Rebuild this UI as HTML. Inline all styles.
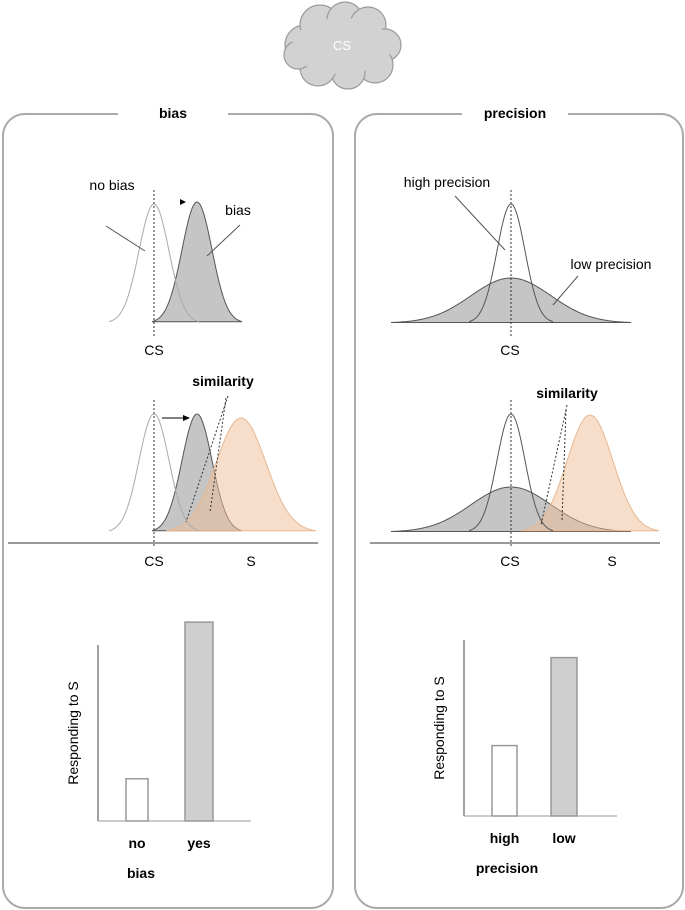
<!DOCTYPE html>
<html><head><meta charset="utf-8"><style>
html,body{margin:0;padding:0;background:#fff}
svg{display:block;font-family:"Liberation Sans",sans-serif}
</style></head><body>
<svg id="fig" width="685" height="910" viewBox="0 0 685 910" xmlns="http://www.w3.org/2000/svg">
<g>
 <g fill="#d2d2d2" stroke="#9a9a9a" stroke-width="1.2">
  <circle cx="305" cy="45" r="20"/><circle cx="320" cy="25" r="20"/><circle cx="345" cy="20" r="18"/><circle cx="368" cy="25" r="18"/><circle cx="385" cy="45" r="16"/><circle cx="375" cy="65" r="18"/><circle cx="348" cy="72" r="17"/><circle cx="318" cy="68" r="18"/><circle cx="298" cy="55" r="14"/>
 </g>
 <g fill="#d2d2d2"><ellipse cx="342" cy="46" rx="50" ry="28"/></g>
 <text x="342" y="50" font-size="13" fill="#fff" text-anchor="middle">CS</text>
</g>
<g>
 <rect x="3" y="114" width="330" height="794" rx="22" fill="none" stroke="#aaa" stroke-width="2"/>
 <rect x="118" y="104" width="110" height="20" fill="#fff"/>
 <text x="173" y="118" font-size="14" font-weight="bold" text-anchor="middle">bias</text>
</g>
<g>
 <rect x="355" y="114" width="328" height="794" rx="22" fill="none" stroke="#aaa" stroke-width="2"/>
 <rect x="462" y="104" width="106" height="20" fill="#fff"/>
 <text x="515" y="118" font-size="14" font-weight="bold" text-anchor="middle">precision</text>
</g>
<g id="curves"></g>
<g id="bars"></g>
</svg>
<script>
// Distribution data: [mean(px), sd(px), peak height(px)]
const biasTop = [[154,15,119],[197,15,121]];
const biasMid = [[154,15,118],[197,15,118],[241,25,114]];
const precTop = [[511,14,119],[511,40,45]];
const precMid = [[511,14,118],[511,40,45],[590,23,117]];
// Bar data
const biasCats = ["no","yes"];
const biasVals = [24,113];
const precCats = ["high","low"];
const precVals = [40,90];

const NS="http://www.w3.org/2000/svg";
function mk(tag,attrs,parent,txt){const e=document.createElementNS(NS,tag);for(const k in attrs)e.setAttribute(k,attrs[k]);if(txt!==undefined)e.textContent=txt;parent.appendChild(e);return e;}
const cg=document.getElementById('curves');
function gauss(d,base,fill,stroke,name){
 const [m,s,h]=d;let p='';
 for(let x=m-3*s;x<=m+3*s+0.01;x+=1){const y=base-h*Math.exp(-((x-m)**2)/(2*s*s));p+=(p?'L':'M')+x.toFixed(1)+','+y.toFixed(1);}
 const e=mk('path',{d:p+(fill!=='none'?'Z':''),fill:fill,stroke:stroke,'stroke-width':1},cg);
 
 
}
function txt(x,y,s,opts,name){const e=mk('text',Object.assign({x:x,y:y,'font-size':14,'text-anchor':'middle'},opts||{}),cg,s);return e;}
function line(x1,y1,x2,y2,opts,name){const e=mk('line',Object.assign({x1,y1,x2,y2,stroke:'#555','stroke-width':1},opts||{}),cg);}
const dash={'stroke-dasharray':'2,2',stroke:'#333'};
// bias top
gauss(biasTop[1],323,'rgba(150,150,150,0.55)','#555','biased-curve');
gauss(biasTop[0],323,'none','#aaa','unbiased-curve');
line(154,190,154,336,dash,'cs-line-bias-top');
txt(154,355,'CS',{},'cs-label');
txt(112,190,'no bias',{},'no-bias-label');
txt(238,215,'bias',{},'bias-label');
line(106,226,145,251,{},'no-bias-leader');
line(240,225,207,256,{},'bias-leader');
mk('path',{d:'M180,199 L186,202 L180,205Z',fill:'#000'},cg);
// bias mid
gauss(biasMid[1],532,'rgba(150,150,150,0.55)','#555','biased-curve-2');
gauss(biasMid[2],532,'rgba(240,190,150,0.5)','#e8b890','s-curve');
gauss(biasMid[0],532,'none','#aaa','unbiased-curve-2');
line(154,400,154,546,dash,'cs-line-bias-mid');
line(8,543,318,543,{stroke:'#333'},'stimulus-axis-bias');
txt(154,566,'CS',{},'cs-axis-label');
txt(251,566,'S',{},'s-axis-label');
txt(223,386,'similarity',{'font-weight':'bold'},'similarity-label');
line(228,396,186,522,dash,'similarity-leader-1');
line(226,398,210,512,dash,'similarity-leader-2');
line(162,418,184,418,{stroke:'#000'},'shift-arrow');
mk('path',{d:'M183,415 L190,418 L183,421Z',fill:'#000'},cg);
// precision top
gauss(precTop[1],323,'rgba(150,150,150,0.55)','#555','low-precision-curve');
gauss(precTop[0],323,'none','#555','high-precision-curve');
line(511,190,511,336,dash,'cs-line-prec-top');
txt(510,355,'CS',{},'cs-label-prec');
txt(447,187,'high precision',{},'high-precision-label');
txt(611,269,'low precision',{},'low-precision-label');
line(455,196,505,250,{},'high-precision-leader');
line(578,276,553,305,{},'low-precision-leader');
// precision mid
gauss(precMid[1],532,'rgba(150,150,150,0.55)','#555','low-precision-curve-2');
gauss(precMid[2],532,'rgba(240,190,150,0.5)','#e8b890','s-curve-prec');
gauss(precMid[0],532,'none','#555','high-precision-curve-2');
line(511,400,511,546,dash,'cs-line-prec-mid');
line(370,543,660,543,{stroke:'#333'},'stimulus-axis-prec');
txt(510,566,'CS',{},'cs-axis-label-prec');
txt(612,566,'S',{},'s-axis-label-prec');
txt(567,398,'similarity',{'font-weight':'bold'},'similarity-label-prec');
line(567,405,541,525,dash,'similarity-leader-3');
line(566,410,562,520,dash,'similarity-leader-4');

// bars
const bg=document.getElementById('bars');
const unit=1.76;
function barChart(ax,base,top,cats,vals,xs,ws,title,gname){
 const g=mk('g',{},bg);
 const ya=mk('line',{x1:ax,y1:top,x2:ax,y2:base,stroke:'#444'},g);
 
 cats.forEach((c,i)=>{
  const h=vals[i]*unit;
  const r=mk('rect',{x:xs[i],y:base-h,width:ws[i],height:h,fill:i?'#cfcfcf':'#fff',stroke:'#999','stroke-width':1.5},g);
  
  const t=mk('text',{x:xs[i]+ws[i]/2,y:base+27,'font-size':14,'font-weight':'bold','text-anchor':'middle'},g,c);
  
 });
 const xa=mk('line',{x1:ax,y1:base,x2:ax+153,y2:base,stroke:'#999'},g);
 
 const xt=mk('text',{x:ax+43,y:base+57,'font-size':14,'font-weight':'bold','text-anchor':'middle'},g,title);
 
 const yt=mk('text',{x:0,y:0,'font-size':14,'text-anchor':'middle',transform:`translate(${ax-20},${(top+base)/2}) rotate(-90)`},g,'Responding to S');
 
}
barChart(98,821,645,biasCats,biasVals,[126,185],[22,28],'bias','bias-bar-chart');
barChart(464,816,640,precCats,precVals,[492,551],[25,26],'precision','precision-bar-chart');
</script>
</body></html>
